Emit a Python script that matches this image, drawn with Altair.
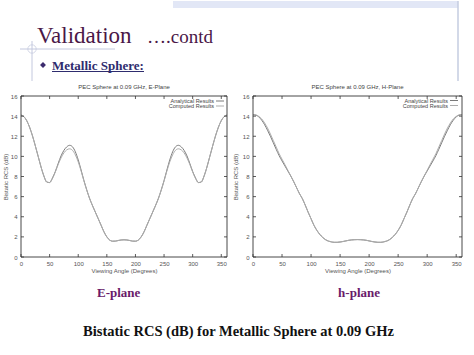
import altair as alt
import pandas as pd

# ---------------- data ----------------
angles = [0, 5, 10, 15, 20, 25, 30, 35, 40, 45, 50, 55, 60, 65, 70, 75, 80, 85, 90,
          95, 100, 105, 110, 115, 120, 125, 130, 135, 140, 145, 150, 155, 160, 165, 170, 175, 180,
          185, 190, 195, 200, 205, 210, 215, 220, 225, 230, 235, 240, 245, 250, 255, 260, 265, 270,
          275, 280, 285, 290, 295, 300, 305, 310, 315, 320, 325, 330, 335, 340, 345, 350, 355, 360]

e_analytical = [14.10, 13.95, 13.55, 12.90, 12.05, 11.05, 10.00, 8.95, 8.05, 7.45, 7.40, 7.85, 8.50,
                9.30, 10.05, 10.60, 10.95, 11.10, 10.95, 10.45, 9.65, 8.65, 7.60, 6.65, 5.80, 5.10,
                4.45, 3.80, 3.15, 2.50, 2.00, 1.68, 1.57, 1.58, 1.64, 1.69, 1.71,
                1.69, 1.64, 1.58, 1.57, 1.68, 2.00, 2.50, 3.15, 3.80, 4.45, 5.10, 5.80, 6.65, 7.60,
                8.65, 9.65, 10.45, 10.95, 11.10, 10.95, 10.60, 10.05, 9.30, 8.50, 7.85, 7.40, 7.45,
                8.05, 8.95, 10.00, 11.05, 12.05, 12.90, 13.55, 13.95, 14.10]

e_computed = [14.10, 13.95, 13.55, 12.90, 12.05, 11.05, 10.00, 8.95, 8.05, 7.45, 7.40, 7.82, 8.45,
              9.20, 9.85, 10.35, 10.65, 10.75, 10.60, 10.15, 9.45, 8.55, 7.55, 6.63, 5.80, 5.10,
              4.45, 3.80, 3.15, 2.50, 2.00, 1.68, 1.57, 1.58, 1.64, 1.69, 1.71,
              1.69, 1.64, 1.58, 1.57, 1.68, 2.00, 2.50, 3.15, 3.80, 4.45, 5.10, 5.80, 6.63, 7.55,
              8.55, 9.45, 10.15, 10.60, 10.75, 10.65, 10.35, 9.85, 9.20, 8.45, 7.82, 7.40, 7.45,
              8.05, 8.95, 10.00, 11.05, 12.05, 12.90, 13.55, 13.95, 14.10]

h_analytical = [14.15, 14.10, 13.92, 13.60, 13.15, 12.60, 12.00, 11.35, 10.70, 10.08, 9.55, 9.05,
                8.55, 8.05, 7.50, 6.90, 6.30, 5.80, 5.15, 4.45, 3.80, 3.15, 2.65, 2.25, 1.95, 1.72,
                1.58, 1.50, 1.46, 1.46, 1.49, 1.54, 1.60, 1.66, 1.70, 1.72, 1.73,
                1.72, 1.70, 1.66, 1.60, 1.54, 1.49, 1.46, 1.46, 1.50, 1.58, 1.72, 1.95, 2.25, 2.65,
                3.15, 3.80, 4.45, 5.15, 5.80, 6.30, 6.90, 7.50, 8.05, 8.55, 9.05, 9.55, 10.08,
                10.70, 11.35, 12.00, 12.60, 13.15, 13.60, 13.92, 14.10, 14.15]

h_computed = [14.15, 14.12, 13.97, 13.72, 13.32, 12.82, 12.22, 11.57, 10.92, 10.27, 9.72, 9.18,
              8.62, 8.07, 7.50, 6.90, 6.30, 5.80, 5.15, 4.45, 3.80, 3.15, 2.65, 2.25, 1.95, 1.72,
              1.58, 1.50, 1.46, 1.46, 1.49, 1.54, 1.60, 1.66, 1.70, 1.72, 1.73,
              1.72, 1.70, 1.66, 1.60, 1.54, 1.49, 1.46, 1.46, 1.50, 1.58, 1.72, 1.95, 2.25, 2.65,
              3.15, 3.80, 4.45, 5.15, 5.80, 6.30, 6.90, 7.50, 8.07, 8.62, 9.18, 9.72, 10.27,
              10.92, 11.57, 12.22, 12.82, 13.32, 13.72, 13.97, 14.12, 14.15]

x_ticks = [0, 50, 100, 150, 200, 250, 300, 350]
y_ticks = [0, 2, 4, 6, 8, 10, 12, 14, 16]
series_names = ["Analytical Results", "Computed Results"]
series_colors = ["#7a7a7a", "#adadad"]

W_L, W_R, H = 206, 209, 161
SANS = "Liberation Sans"
SERIF = "Liberation Serif"
LABEL_C = "#555555"

one = pd.DataFrame({"k": [0]})


def long_df(a, c):
    return pd.DataFrame({
        "angle": angles * 2,
        "rcs": a + c,
        "series": [series_names[0]] * len(angles) + [series_names[1]] * len(angles),
    })


def panel(df, W, title, title_x_off, legend_x, legend_y):
    xs = alt.Scale(domain=[0, 360], nice=False)
    ys = alt.Scale(domain=[0, 16], nice=False)
    x_axis = alt.Axis(
        values=x_ticks, title="Viewing Angle (Degrees)", grid=False, domain=False,
        tickSize=0, labelPadding=3, labelFontSize=6, labelFont=SANS, labelColor=LABEL_C,
        labelOverlap=False, labelFlush=False,
        titleFontSize=6, titleFont=SANS, titleFontWeight="normal", titleColor=LABEL_C,
        titlePadding=1, zindex=1)
    y_axis = alt.Axis(
        values=y_ticks, title="Bistatic RCS (dB)", grid=False, domain=False,
        tickSize=0, labelPadding=4, labelFontSize=6, labelFont=SANS, labelColor=LABEL_C,
        labelOverlap=False, labelFlush=False,
        titleFontSize=6, titleFont=SANS, titleFontWeight="normal", titleColor=LABEL_C,
        titleAngle=-90, titleX=title_x_off, titleY=H / 2, titleAlign="center",
        titleBaseline="bottom", zindex=1)
    lines = alt.Chart(df).mark_line(strokeWidth=1, interpolate="monotone").encode(
        x=alt.X("angle:Q", scale=xs, axis=x_axis),
        y=alt.Y("rcs:Q", scale=ys, axis=y_axis),
        color=alt.Color("series:N", scale=alt.Scale(domain=series_names, range=series_colors),
                        legend=None),
    )
    xt = pd.DataFrame({"v": x_ticks})
    yt = pd.DataFrame({"v": y_ticks})
    tick_style = dict(color="#333333", strokeWidth=0.8)
    xb = alt.Chart(xt).mark_rule(**tick_style).encode(
        x=alt.X("v:Q", scale=xs, axis=x_axis), y=alt.value(H), y2=alt.value(H - 3))
    xtop = alt.Chart(xt).mark_rule(**tick_style).encode(
        x=alt.X("v:Q", scale=xs, axis=x_axis), y=alt.value(0), y2=alt.value(3))
    yl = alt.Chart(yt).mark_rule(**tick_style).encode(
        y=alt.Y("v:Q", scale=ys, axis=y_axis), x=alt.value(0), x2=alt.value(3))
    yr = alt.Chart(yt).mark_rule(**tick_style).encode(
        y=alt.Y("v:Q", scale=ys, axis=y_axis), x=alt.value(W - 3), x2=alt.value(W))
    frame = alt.Chart(one).mark_rect(fill=None, stroke="#333333", strokeWidth=0.9).encode(
        x=alt.value(0), x2=alt.value(W), y=alt.value(0), y2=alt.value(H))
    ttl = alt.Chart(one).mark_text(text=title, fontSize=6, font=SANS, color="#444444",
                                   align="center", baseline="alphabetic").encode(
        x=alt.value(W / 2), y=alt.value(-7.5))
    leg = []
    for i, name in enumerate(series_names):
        leg.append(alt.Chart(one).mark_text(text=name, fontSize=5.5, font=SANS, color="#444444",
                                            align="right", baseline="middle").encode(
            x=alt.value(legend_x), y=alt.value(legend_y + 5 * i)))
        leg.append(alt.Chart(one).mark_rule(color=series_colors[i], strokeWidth=1).encode(
            x=alt.value(legend_x + 2), x2=alt.value(legend_x + 10),
            y=alt.value(legend_y + 5 * i)))
    return [lines, xb, xtop, yl, yr, frame, ttl] + leg


# slide decorations / text (pixel positions relative to the left plot origin)
deco = [
    alt.Chart(one).mark_rect(opacity=0).encode(
        x=alt.value(-21), x2=alt.value(453), y=alt.value(-95), y2=alt.value(260)),
    alt.Chart(one).mark_rect(color="#e2e7f6").encode(
        x=alt.value(152), x2=alt.value(437), y=alt.value(-95), y2=alt.value(-88)),
    alt.Chart(one).mark_rule(color="#c4cce0", strokeWidth=1.5).encode(
        x=alt.value(437), y=alt.value(-95), y2=alt.value(-15)),
    alt.Chart(one).mark_rule(color="#c3c8de", strokeWidth=1).encode(
        x=alt.value(-1), x2=alt.value(94), y=alt.value(-47)),
    alt.Chart(one).mark_rule(color="#c3c8de", strokeWidth=1).encode(
        x=alt.value(11), y=alt.value(-55), y2=alt.value(-15)),
    alt.Chart(one).mark_point(shape="circle", filled=False, size=70, color="#c3c8de",
                              strokeWidth=1).encode(x=alt.value(11), y=alt.value(-47)),
    alt.Chart(one).mark_text(text="Validation", font=SERIF, fontSize=23, color="#4a1747",
                             align="left", baseline="alphabetic").encode(
        x=alt.value(16), y=alt.value(-53.5)),
    alt.Chart(one).mark_text(text="….contd", font=SERIF, fontSize=19, color="#4a1747",
                             align="left", baseline="alphabetic").encode(
        x=alt.value(126), y=alt.value(-53.5)),
    alt.Chart(one).mark_point(shape="diamond", filled=True, size=35, color="#3c2c6e",
                              opacity=1).encode(x=alt.value(22), y=alt.value(-31)),
    alt.Chart(one).mark_text(text="Metallic Sphere:", font=SERIF, fontSize=13,
                             fontWeight="bold", color="#2e2c6e", align="left",
                             baseline="alphabetic").encode(x=alt.value(31), y=alt.value(-26)),
    alt.Chart(one).mark_rule(color="#2e2c6e", strokeWidth=1).encode(
        x=alt.value(31), x2=alt.value(123), y=alt.value(-24.5)),
    alt.Chart(one).mark_text(text="E-plane", font=SERIF, fontSize=13, fontWeight="bold",
                             color="#6a1b6a", align="left", baseline="alphabetic").encode(
        x=alt.value(76), y=alt.value(201)),
    alt.Chart(one).mark_text(text="h-plane", font=SERIF, fontSize=13, fontWeight="bold",
                             color="#6a1b6a", align="right", baseline="alphabetic").encode(
        x=alt.value(359), y=alt.value(201)),
    alt.Chart(one).mark_text(text="Bistatic RCS (dB) for Metallic Sphere at 0.09 GHz", font=SERIF,
                             fontSize=14.5, fontWeight="bold", color="#111111", align="center",
                             baseline="alphabetic").encode(x=alt.value(217.5), y=alt.value(240)),
]

left = alt.layer(*(deco + panel(long_df(e_analytical, e_computed), W_L,
                                "PEC Sphere at 0.09 GHz, E-Plane", -13, 193, 5))).properties(
    width=W_L, height=H)
right = alt.layer(*panel(long_df(h_analytical, h_computed), W_R,
                         "PEC Sphere at 0.09 GHz, H-Plane", -15, 195, 4.5)).properties(
    width=W_R, height=H)

chart = alt.hconcat(left, right, spacing=26, bounds="flush").properties(
    padding=0, background="white").configure_view(stroke=None)

chart.save("out.html", embed_options={"renderer": "svg", "actions": False})
